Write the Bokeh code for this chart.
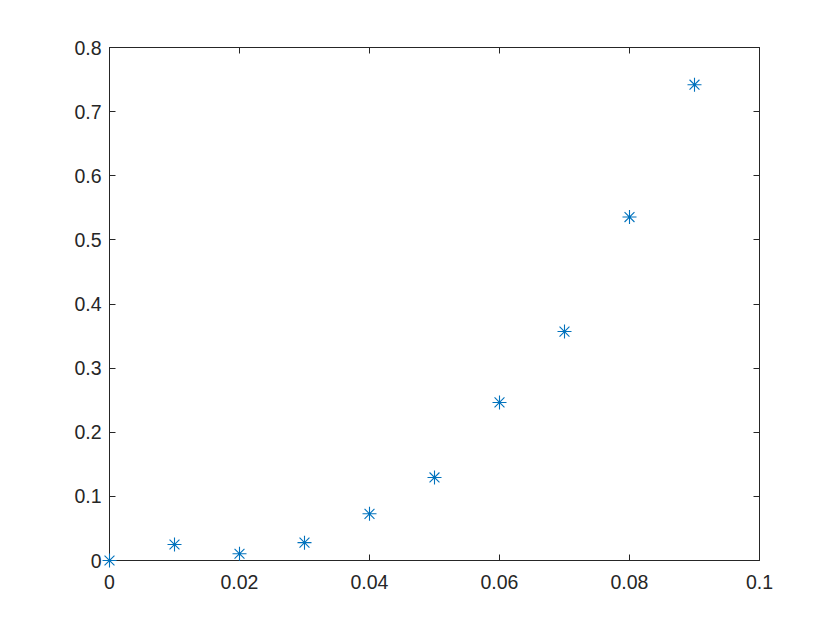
from bokeh.plotting import figure
from bokeh.models import LinearAxis, FixedTicker, Range1d
from bokeh.embed import file_html
from bokeh.resources import INLINE

x_vals = [0.0, 0.01, 0.02, 0.03, 0.04, 0.05, 0.06, 0.07, 0.08, 0.09]
y_vals = [0.0, 0.025, 0.0105, 0.0278, 0.0728, 0.1295, 0.2465, 0.357, 0.5356, 0.742]

x_ticks = [0.0, 0.02, 0.04, 0.06, 0.08, 0.1]
x_labels = ["0", "0.02", "0.04", "0.06", "0.08", "0.1"]
y_ticks = [0.0, 0.1, 0.2, 0.3, 0.4, 0.5, 0.6, 0.7, 0.8]
y_labels = ["0", "0.1", "0.2", "0.3", "0.4", "0.5", "0.6", "0.7", "0.8"]

AX = "#262626"
FONT = "Liberation Sans"

p = figure(width=824, height=614, output_backend="svg", toolbar_location=None,
           x_range=Range1d(0, 0.1), y_range=Range1d(0, 0.8),
           x_axis_location=None, y_axis_location=None,
           min_border_left=109, min_border_right=65, min_border_top=47, min_border_bottom=54)
p.grid.visible = False
p.outline_line_color = AX
p.outline_line_width = 1
p.background_fill_color = "white"
p.border_fill_color = "white"

def make_axis(ticks, labels, show_labels, standoff):
    ax = LinearAxis(ticker=FixedTicker(ticks=ticks))
    ax.major_label_overrides = {t: l for t, l in zip(ticks, labels)}
    ax.major_tick_in = 6
    ax.major_tick_out = 0
    ax.minor_tick_in = 0
    ax.minor_tick_out = 0
    ax.axis_line_color = AX
    ax.major_tick_line_color = AX
    ax.major_label_text_color = AX
    ax.major_label_text_font = FONT
    ax.major_label_text_font_size = "19.5px"
    ax.major_label_standoff = standoff
    if not show_labels:
        ax.major_label_text_alpha = 0
        ax.major_label_text_font_size = "1px"
    return ax

p.add_layout(make_axis(x_ticks, x_labels, True, 14), "below")
p.add_layout(make_axis(y_ticks, y_labels, True, 8), "left")
p.add_layout(make_axis(x_ticks, x_labels, False, 0), "above")
p.add_layout(make_axis(y_ticks, y_labels, False, 0), "right")

p.scatter(x_vals, y_vals, marker="asterisk", size=14, line_color="#0072BD",
          line_width=1.1, level="overlay")

open("out.html", "w").write(file_html(p, INLINE))
